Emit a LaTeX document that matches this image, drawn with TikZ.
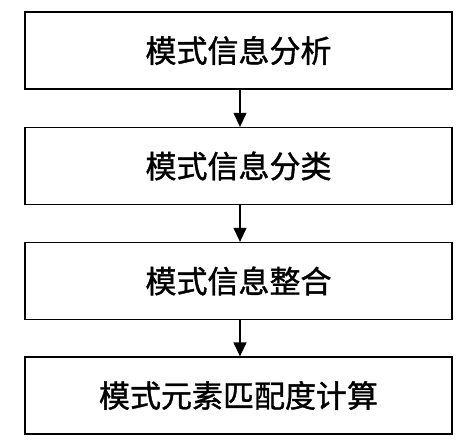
\documentclass[tikz,border=0pt]{standalone}
\usepackage{fontspec}
\newfontfamily\cjk[FakeBold=1.2]{Noto Sans CJK SC}
\usetikzlibrary{arrows.meta}
\begin{document}
\begin{tikzpicture}[x=1pt,y=-1pt,
  stepbox/.style={draw,line width=1.3pt,minimum width=427pt,minimum height=77pt,inner sep=0pt,font=\cjk\fontsize{31}{31}\selectfont},
  flow/.style={line width=1.3pt,-{Triangle[width=13pt,length=14pt]}}]
\useasboundingbox (0,0) rectangle (474,440);
\fill[white] (0,0) rectangle (474,440);
\node[stepbox] (a) at (238.5,50.5) {模式信息分析};
\node[stepbox] (b) at (238.5,166) {模式信息分类};
\node[stepbox] (c) at (238.5,281) {模式信息整合};
\node[stepbox] (d) at (238.5,395.5) {模式元素匹配度计算};
\draw[flow] (a.south -| 240,0) -- (b.north -| 240,0);
\draw[flow] (b.south -| 240,0) -- (c.north -| 240,0);
\draw[flow] (c.south -| 240,0) -- (d.north -| 240,0);
\end{tikzpicture}
\end{document}
